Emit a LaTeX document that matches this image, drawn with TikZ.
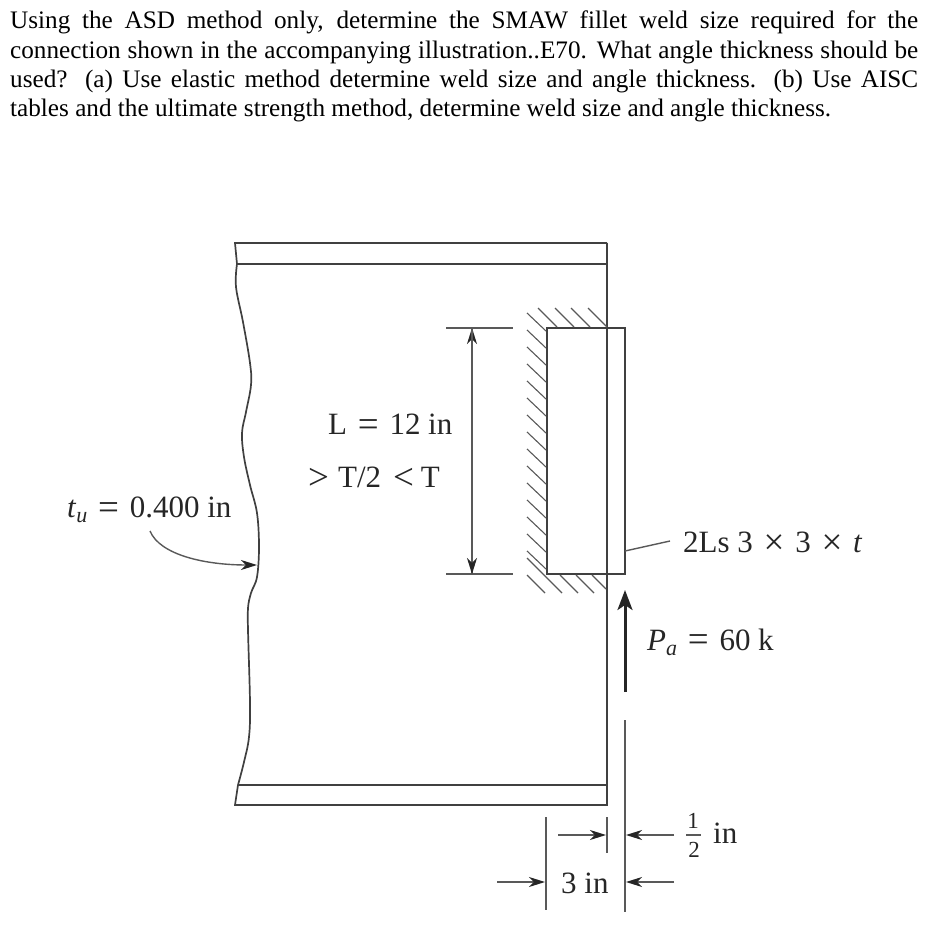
\documentclass[tikz,border=0pt]{standalone}
\usepackage{fontspec}
\setmainfont{Liberation Serif}
\usetikzlibrary{arrows.meta}
\tikzset{
	plate/.style={draw=black!75, line width=1.7pt},
	thinline/.style={draw=black!65, line width=1.4pt},
	hatchline/.style={draw=black!65, line width=1.1pt},
	dimarrow/.style={thinline, -{Stealth[length=16pt, width=10pt, inset=5pt, black!85]}},
	lbl/.style={inner sep=0pt, anchor=west, font=\fontsize{31}{35}\selectfont, text=black!85},
	fraclbl/.style={inner sep=0pt, font=\fontsize{23}{23}\selectfont, text=black!85},
}
\newcommand{\subit}[1]{\raisebox{-5pt}{\fontsize{22}{22}\selectfont\textit{#1}}}
\newcommand{\bigsym}[1]{\hspace{3pt}\raisebox{-1.6pt}{\fontsize{37}{37}\selectfont #1}\hspace{3pt}}
\begin{document}
\begin{tikzpicture}[x=1pt, y=-1pt]
	\useasboundingbox (0,0) rectangle (930,926);

	% problem text
	\node[inner sep=0pt, anchor=north west, text width=908pt, align=justify,
		font=\fontsize{25.2}{29.2}\selectfont] (problem) at (10,11) {Using the ASD
		method only, determine the SMAW fillet weld size required for the\linebreak
		connection shown in the accompanying illustration..E70.  What angle thickness
		should be\linebreak used?  (a) Use elastic method determine weld size and angle
		thickness.  (b) Use AISC\linebreak tables and the ultimate strength method,
		determine weld size and angle thickness.};

	% beam
	\draw[plate] (607,243) -- (235,243) -- (237,264);
	\draw[plate] (237,264) -- (607,264);
	\draw[plate] (238,785) -- (607,785);
	\draw[plate] (607,243) -- (607,805) -- (235,805) -- (238,785);
	\draw[plate] plot[smooth, tension=0.6] coordinates {(237,264) (236,287) (243,322)
		(250,363) (251,385) (246,412) (242,433) (244,457) (250,485) (257,513)
		(259,547) (257,577) (251,593) (248,608) (248,630) (250,703) (249,737) (244,762) (238,785)};

	% angle
	\draw[plate] (547,328) rectangle (625,574);
	\coordinate (legmid) at (625,551);

	% weld
	\foreach \y in {313,330,...,559}
		\draw[hatchline] (527,\y) -- ++(19,18);
	\draw[hatchline] (527,558) -- (562,593);
	\draw[hatchline] (527,575) -- (545,593);
	\foreach \x in {538,555,571,588}
		\draw[hatchline] (\x,308) -- ++(19,19);
	\foreach \x in {560,576}
		\draw[hatchline] (\x,575) -- ++(18,18);
	\draw[hatchline] (592,575) -- (606,589);

	% length dimension
	\coordinate (ltop) at (472,328);
	\coordinate (lbot) at (472,574);
	\draw[thinline] (446,328) -- (513,328);
	\draw[thinline] (446,574) -- (513,574);
	\draw[dimarrow] (lbot) -- (ltop);
	\draw[dimarrow] (ltop) -- (lbot);
	\node[lbl] (llabel) at (328,425) {L \bigsym{=} 12 in};
	\node[lbl] (tlabel) at (308,478) {\hspace{-3pt}\bigsym{>}\hspace{6pt}T/2\hspace{9pt}\bigsym{<}\hspace{4pt}T};

	% thickness
	\node[lbl] (tulabel) at (67,510) {\textit{t}\subit{u} \bigsym{=} 0.400 in};
	\coordinate (tufrom) at (150,531);
	\coordinate (tuto) at (257,565);
	\draw[dimarrow] (tufrom) .. controls (160,555) and (205,565) .. (tuto);

	% angle label
	\coordinate (anglefrom) at (670,541);
	\node[lbl] (anglelabel) at (683,543) {2Ls 3 \bigsym{×} 3 \bigsym{×} \textit{t}};
	\draw[thinline] (legmid) -- (anglefrom);

	% load
	\coordinate (loadfrom) at (625,692);
	\coordinate (loadto) at (625,590);
	\draw[line width=3pt, black!85, -{Stealth[length=20pt, width=15pt, inset=5pt]}] (loadfrom) -- (loadto);
	\node[lbl] (loadlabel) at (647,642) {\textit{P}\subit{a} \bigsym{=} 60 k};

	% bottom dimensions
	\coordinate (linetop) at (625,720);
	\coordinate (linebot) at (625,912);
	\draw[thinline] (linetop) -- (linebot);
	\draw[thinline] (546,817) -- (546,910);
	\draw[thinline] (607,817) -- (607,853);
	\coordinate (halfa) at (558,835);
	\coordinate (halfb) at (606,835);
	\coordinate (halfc) at (674,835);
	\coordinate (halfd) at (626,835);
	\coordinate (widea) at (497,882);
	\coordinate (wideb) at (545,882);
	\coordinate (widec) at (674,882);
	\coordinate (wided) at (626,882);
	\draw[dimarrow] (halfa) -- (halfb);
	\draw[dimarrow] (halfc) -- (halfd);
	\draw[dimarrow] (widea) -- (wideb);
	\draw[dimarrow] (widec) -- (wided);
	\node[lbl] (widelabel) at (561,883) {3 in};
	\node[fraclbl] (halfnum) at (693,821) {1};
	\node[fraclbl] (halfden) at (694,850) {2};
	\draw[thinline] (686,835) -- (701,835);
	\node[lbl] (halflabel) at (713,833) {in};
\end{tikzpicture}
\end{document}
